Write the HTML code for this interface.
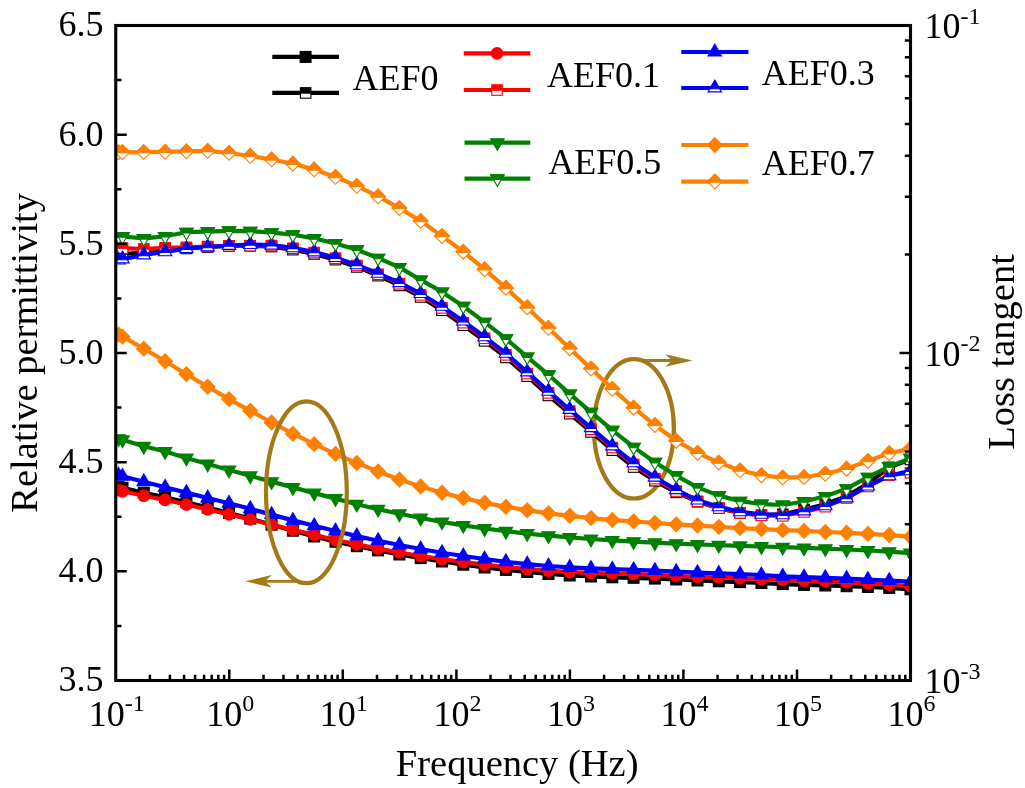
<!DOCTYPE html>
<html lang="en"><head><meta charset="utf-8"><title>Relative permittivity and loss tangent vs frequency</title>
<style>html,body{margin:0;padding:0;background:#fff}svg{display:block}</style></head>
<body>
<svg width="1025" height="788" viewBox="0 0 1025 788"><rect width="1025" height="788" fill="#fff"/><defs><clipPath id="cp"><rect x="115.75" y="25.5" width="794.75" height="655.0"/></clipPath></defs><g clip-path="url(#cp)">
<g><polyline points="118.5,487 122.5,487.8 143.8,492.7 165.1,497.3 186.4,502.3 207.7,507.6 229,513 250.3,518.6 271.6,524.7 292.9,530.7 314.2,536.5 335.5,541.8 356.8,546.2 378.1,550.4 399.4,554.5 420.7,558.1 442,561.5 463.3,564.7 484.6,567.5 505.9,569.9 527.2,572 548.5,574 569.7,575.5 591,576.5 612.3,577.3 633.6,577.8 654.9,578.6 676.2,579.5 697.5,580.5 718.8,581.3 740.1,582.1 761.4,583 782.7,584.1 804,584.9 825.3,585.5 846.6,586.2 867.9,587 889.2,587.9 910.5,589.3" fill="none" stroke="#000000" stroke-width="4.2" stroke-linejoin="round"/><rect x="113.1" y="481.6" width="10.8" height="10.8" fill="#000000" stroke="#000000" stroke-width="1.2"/><rect x="117.1" y="482.4" width="10.8" height="10.8" fill="#000000" stroke="#000000" stroke-width="1.2"/><rect x="138.4" y="487.3" width="10.8" height="10.8" fill="#000000" stroke="#000000" stroke-width="1.2"/><rect x="159.7" y="491.9" width="10.8" height="10.8" fill="#000000" stroke="#000000" stroke-width="1.2"/><rect x="181" y="496.9" width="10.8" height="10.8" fill="#000000" stroke="#000000" stroke-width="1.2"/><rect x="202.3" y="502.2" width="10.8" height="10.8" fill="#000000" stroke="#000000" stroke-width="1.2"/><rect x="223.6" y="507.6" width="10.8" height="10.8" fill="#000000" stroke="#000000" stroke-width="1.2"/><rect x="244.9" y="513.2" width="10.8" height="10.8" fill="#000000" stroke="#000000" stroke-width="1.2"/><rect x="266.2" y="519.3" width="10.8" height="10.8" fill="#000000" stroke="#000000" stroke-width="1.2"/><rect x="287.5" y="525.3" width="10.8" height="10.8" fill="#000000" stroke="#000000" stroke-width="1.2"/><rect x="308.8" y="531.1" width="10.8" height="10.8" fill="#000000" stroke="#000000" stroke-width="1.2"/><rect x="330.1" y="536.4" width="10.8" height="10.8" fill="#000000" stroke="#000000" stroke-width="1.2"/><rect x="351.4" y="540.8" width="10.8" height="10.8" fill="#000000" stroke="#000000" stroke-width="1.2"/><rect x="372.7" y="545" width="10.8" height="10.8" fill="#000000" stroke="#000000" stroke-width="1.2"/><rect x="394" y="549.1" width="10.8" height="10.8" fill="#000000" stroke="#000000" stroke-width="1.2"/><rect x="415.3" y="552.7" width="10.8" height="10.8" fill="#000000" stroke="#000000" stroke-width="1.2"/><rect x="436.6" y="556.1" width="10.8" height="10.8" fill="#000000" stroke="#000000" stroke-width="1.2"/><rect x="457.9" y="559.3" width="10.8" height="10.8" fill="#000000" stroke="#000000" stroke-width="1.2"/><rect x="479.2" y="562.1" width="10.8" height="10.8" fill="#000000" stroke="#000000" stroke-width="1.2"/><rect x="500.5" y="564.5" width="10.8" height="10.8" fill="#000000" stroke="#000000" stroke-width="1.2"/><rect x="521.8" y="566.6" width="10.8" height="10.8" fill="#000000" stroke="#000000" stroke-width="1.2"/><rect x="543.1" y="568.6" width="10.8" height="10.8" fill="#000000" stroke="#000000" stroke-width="1.2"/><rect x="564.3" y="570.1" width="10.8" height="10.8" fill="#000000" stroke="#000000" stroke-width="1.2"/><rect x="585.6" y="571.1" width="10.8" height="10.8" fill="#000000" stroke="#000000" stroke-width="1.2"/><rect x="606.9" y="571.9" width="10.8" height="10.8" fill="#000000" stroke="#000000" stroke-width="1.2"/><rect x="628.2" y="572.4" width="10.8" height="10.8" fill="#000000" stroke="#000000" stroke-width="1.2"/><rect x="649.5" y="573.2" width="10.8" height="10.8" fill="#000000" stroke="#000000" stroke-width="1.2"/><rect x="670.8" y="574.1" width="10.8" height="10.8" fill="#000000" stroke="#000000" stroke-width="1.2"/><rect x="692.1" y="575.1" width="10.8" height="10.8" fill="#000000" stroke="#000000" stroke-width="1.2"/><rect x="713.4" y="575.9" width="10.8" height="10.8" fill="#000000" stroke="#000000" stroke-width="1.2"/><rect x="734.7" y="576.7" width="10.8" height="10.8" fill="#000000" stroke="#000000" stroke-width="1.2"/><rect x="756" y="577.6" width="10.8" height="10.8" fill="#000000" stroke="#000000" stroke-width="1.2"/><rect x="777.3" y="578.7" width="10.8" height="10.8" fill="#000000" stroke="#000000" stroke-width="1.2"/><rect x="798.6" y="579.5" width="10.8" height="10.8" fill="#000000" stroke="#000000" stroke-width="1.2"/><rect x="819.9" y="580.1" width="10.8" height="10.8" fill="#000000" stroke="#000000" stroke-width="1.2"/><rect x="841.2" y="580.8" width="10.8" height="10.8" fill="#000000" stroke="#000000" stroke-width="1.2"/><rect x="862.5" y="581.6" width="10.8" height="10.8" fill="#000000" stroke="#000000" stroke-width="1.2"/><rect x="883.8" y="582.5" width="10.8" height="10.8" fill="#000000" stroke="#000000" stroke-width="1.2"/><rect x="905.1" y="583.9" width="10.8" height="10.8" fill="#000000" stroke="#000000" stroke-width="1.2"/></g>
<g><polyline points="118.5,490.2 122.5,491.3 143.8,495.7 165.1,499.9 186.4,504.5 207.7,509.4 229,514.4 250.3,519.4 271.6,524.7 292.9,529.7 314.2,534.8 335.5,540 356.8,544.4 378.1,548.6 399.4,552.5 420.7,556 442,559.2 463.3,562 484.6,564.6 505.9,567 527.2,569 548.5,570.7 569.7,572 591,572.9 612.3,573.5 633.6,574 654.9,574.8 676.2,575.8 697.5,576.8 718.8,577.5 740.1,578.2 761.4,579 782.7,579.9 804,580.7 825.3,581.4 846.6,582.3 867.9,583.3 889.2,584.6 910.5,586.2" fill="none" stroke="#ff0000" stroke-width="4.2" stroke-linejoin="round"/><circle cx="118.5" cy="490.2" r="6.3" fill="#ff0000"/><circle cx="122.5" cy="491.3" r="6.3" fill="#ff0000"/><circle cx="143.8" cy="495.7" r="6.3" fill="#ff0000"/><circle cx="165.1" cy="499.9" r="6.3" fill="#ff0000"/><circle cx="186.4" cy="504.5" r="6.3" fill="#ff0000"/><circle cx="207.7" cy="509.4" r="6.3" fill="#ff0000"/><circle cx="229" cy="514.4" r="6.3" fill="#ff0000"/><circle cx="250.3" cy="519.4" r="6.3" fill="#ff0000"/><circle cx="271.6" cy="524.7" r="6.3" fill="#ff0000"/><circle cx="292.9" cy="529.7" r="6.3" fill="#ff0000"/><circle cx="314.2" cy="534.8" r="6.3" fill="#ff0000"/><circle cx="335.5" cy="540" r="6.3" fill="#ff0000"/><circle cx="356.8" cy="544.4" r="6.3" fill="#ff0000"/><circle cx="378.1" cy="548.6" r="6.3" fill="#ff0000"/><circle cx="399.4" cy="552.5" r="6.3" fill="#ff0000"/><circle cx="420.7" cy="556" r="6.3" fill="#ff0000"/><circle cx="442" cy="559.2" r="6.3" fill="#ff0000"/><circle cx="463.3" cy="562" r="6.3" fill="#ff0000"/><circle cx="484.6" cy="564.6" r="6.3" fill="#ff0000"/><circle cx="505.9" cy="567" r="6.3" fill="#ff0000"/><circle cx="527.2" cy="569" r="6.3" fill="#ff0000"/><circle cx="548.5" cy="570.7" r="6.3" fill="#ff0000"/><circle cx="569.7" cy="572" r="6.3" fill="#ff0000"/><circle cx="591" cy="572.9" r="6.3" fill="#ff0000"/><circle cx="612.3" cy="573.5" r="6.3" fill="#ff0000"/><circle cx="633.6" cy="574" r="6.3" fill="#ff0000"/><circle cx="654.9" cy="574.8" r="6.3" fill="#ff0000"/><circle cx="676.2" cy="575.8" r="6.3" fill="#ff0000"/><circle cx="697.5" cy="576.8" r="6.3" fill="#ff0000"/><circle cx="718.8" cy="577.5" r="6.3" fill="#ff0000"/><circle cx="740.1" cy="578.2" r="6.3" fill="#ff0000"/><circle cx="761.4" cy="579" r="6.3" fill="#ff0000"/><circle cx="782.7" cy="579.9" r="6.3" fill="#ff0000"/><circle cx="804" cy="580.7" r="6.3" fill="#ff0000"/><circle cx="825.3" cy="581.4" r="6.3" fill="#ff0000"/><circle cx="846.6" cy="582.3" r="6.3" fill="#ff0000"/><circle cx="867.9" cy="583.3" r="6.3" fill="#ff0000"/><circle cx="889.2" cy="584.6" r="6.3" fill="#ff0000"/><circle cx="910.5" cy="586.2" r="6.3" fill="#ff0000"/></g>
<g><polyline points="118.5,475.2 122.5,476.3 143.8,481.7 165.1,487.3 186.4,492.6 207.7,498 229,503.3 250.3,508.8 271.6,514.6 292.9,520.4 314.2,525.8 335.5,531 356.8,536.1 378.1,540.7 399.4,545 420.7,549 442,552.7 463.3,556 484.6,559 505.9,561.8 527.2,564.1 548.5,566 569.7,567.4 591,568.4 612.3,569.2 633.6,569.8 654.9,570.7 676.2,571.7 697.5,572.7 718.8,573.4 740.1,574.1 761.4,575 782.7,576.3 804,577.1 825.3,577.8 846.6,578.5 867.9,579.5 889.2,580.6 910.5,581.6" fill="none" stroke="#0000ff" stroke-width="4.2" stroke-linejoin="round"/><polygon points="118.5,467.5 125.2,479.1 111.8,479.1" fill="#0000ff" stroke="#0000ff" stroke-width="1.2" stroke-linejoin="miter"/><polygon points="122.5,468.6 129.2,480.2 115.8,480.2" fill="#0000ff" stroke="#0000ff" stroke-width="1.2" stroke-linejoin="miter"/><polygon points="143.8,474 150.5,485.6 137.1,485.6" fill="#0000ff" stroke="#0000ff" stroke-width="1.2" stroke-linejoin="miter"/><polygon points="165.1,479.6 171.8,491.2 158.4,491.2" fill="#0000ff" stroke="#0000ff" stroke-width="1.2" stroke-linejoin="miter"/><polygon points="186.4,484.9 193.1,496.5 179.7,496.5" fill="#0000ff" stroke="#0000ff" stroke-width="1.2" stroke-linejoin="miter"/><polygon points="207.7,490.2 214.4,501.8 201,501.8" fill="#0000ff" stroke="#0000ff" stroke-width="1.2" stroke-linejoin="miter"/><polygon points="229,495.5 235.7,507.1 222.3,507.1" fill="#0000ff" stroke="#0000ff" stroke-width="1.2" stroke-linejoin="miter"/><polygon points="250.3,501 257,512.6 243.6,512.6" fill="#0000ff" stroke="#0000ff" stroke-width="1.2" stroke-linejoin="miter"/><polygon points="271.6,506.9 278.3,518.5 264.9,518.5" fill="#0000ff" stroke="#0000ff" stroke-width="1.2" stroke-linejoin="miter"/><polygon points="292.9,512.7 299.6,524.3 286.2,524.3" fill="#0000ff" stroke="#0000ff" stroke-width="1.2" stroke-linejoin="miter"/><polygon points="314.2,518.1 320.9,529.7 307.5,529.7" fill="#0000ff" stroke="#0000ff" stroke-width="1.2" stroke-linejoin="miter"/><polygon points="335.5,523.3 342.2,534.9 328.8,534.9" fill="#0000ff" stroke="#0000ff" stroke-width="1.2" stroke-linejoin="miter"/><polygon points="356.8,528.3 363.5,539.9 350.1,539.9" fill="#0000ff" stroke="#0000ff" stroke-width="1.2" stroke-linejoin="miter"/><polygon points="378.1,532.9 384.8,544.5 371.4,544.5" fill="#0000ff" stroke="#0000ff" stroke-width="1.2" stroke-linejoin="miter"/><polygon points="399.4,537.2 406.1,548.8 392.7,548.8" fill="#0000ff" stroke="#0000ff" stroke-width="1.2" stroke-linejoin="miter"/><polygon points="420.7,541.3 427.4,552.9 414,552.9" fill="#0000ff" stroke="#0000ff" stroke-width="1.2" stroke-linejoin="miter"/><polygon points="442,545 448.7,556.6 435.3,556.6" fill="#0000ff" stroke="#0000ff" stroke-width="1.2" stroke-linejoin="miter"/><polygon points="463.3,548.3 470,559.9 456.6,559.9" fill="#0000ff" stroke="#0000ff" stroke-width="1.2" stroke-linejoin="miter"/><polygon points="484.6,551.3 491.3,562.9 477.9,562.9" fill="#0000ff" stroke="#0000ff" stroke-width="1.2" stroke-linejoin="miter"/><polygon points="505.9,554 512.6,565.6 499.2,565.6" fill="#0000ff" stroke="#0000ff" stroke-width="1.2" stroke-linejoin="miter"/><polygon points="527.2,556.4 533.9,568 520.5,568" fill="#0000ff" stroke="#0000ff" stroke-width="1.2" stroke-linejoin="miter"/><polygon points="548.5,558.2 555.2,569.8 541.8,569.8" fill="#0000ff" stroke="#0000ff" stroke-width="1.2" stroke-linejoin="miter"/><polygon points="569.7,559.7 576.4,571.3 563,571.3" fill="#0000ff" stroke="#0000ff" stroke-width="1.2" stroke-linejoin="miter"/><polygon points="591,560.7 597.7,572.3 584.3,572.3" fill="#0000ff" stroke="#0000ff" stroke-width="1.2" stroke-linejoin="miter"/><polygon points="612.3,561.5 619,573.1 605.6,573.1" fill="#0000ff" stroke="#0000ff" stroke-width="1.2" stroke-linejoin="miter"/><polygon points="633.6,562.1 640.3,573.7 626.9,573.7" fill="#0000ff" stroke="#0000ff" stroke-width="1.2" stroke-linejoin="miter"/><polygon points="654.9,562.9 661.6,574.5 648.2,574.5" fill="#0000ff" stroke="#0000ff" stroke-width="1.2" stroke-linejoin="miter"/><polygon points="676.2,564 682.9,575.6 669.5,575.6" fill="#0000ff" stroke="#0000ff" stroke-width="1.2" stroke-linejoin="miter"/><polygon points="697.5,565 704.2,576.6 690.8,576.6" fill="#0000ff" stroke="#0000ff" stroke-width="1.2" stroke-linejoin="miter"/><polygon points="718.8,565.7 725.5,577.3 712.1,577.3" fill="#0000ff" stroke="#0000ff" stroke-width="1.2" stroke-linejoin="miter"/><polygon points="740.1,566.4 746.8,578 733.4,578" fill="#0000ff" stroke="#0000ff" stroke-width="1.2" stroke-linejoin="miter"/><polygon points="761.4,567.3 768.1,578.9 754.7,578.9" fill="#0000ff" stroke="#0000ff" stroke-width="1.2" stroke-linejoin="miter"/><polygon points="782.7,568.6 789.4,580.2 776,580.2" fill="#0000ff" stroke="#0000ff" stroke-width="1.2" stroke-linejoin="miter"/><polygon points="804,569.4 810.7,581 797.3,581" fill="#0000ff" stroke="#0000ff" stroke-width="1.2" stroke-linejoin="miter"/><polygon points="825.3,570 832,581.6 818.6,581.6" fill="#0000ff" stroke="#0000ff" stroke-width="1.2" stroke-linejoin="miter"/><polygon points="846.6,570.8 853.3,582.4 839.9,582.4" fill="#0000ff" stroke="#0000ff" stroke-width="1.2" stroke-linejoin="miter"/><polygon points="867.9,571.8 874.6,583.4 861.2,583.4" fill="#0000ff" stroke="#0000ff" stroke-width="1.2" stroke-linejoin="miter"/><polygon points="889.2,572.9 895.9,584.5 882.5,584.5" fill="#0000ff" stroke="#0000ff" stroke-width="1.2" stroke-linejoin="miter"/><polygon points="910.5,573.9 917.2,585.5 903.8,585.5" fill="#0000ff" stroke="#0000ff" stroke-width="1.2" stroke-linejoin="miter"/></g>
<g><polyline points="118.5,438.7 122.5,439.8 143.8,446.3 165.1,451.5 186.4,458 207.7,464 229,470 250.3,475.8 271.6,481.6 292.9,487.4 314.2,493.1 335.5,498.6 356.8,504.2 378.1,509.2 399.4,513.8 420.7,518 442,521.9 463.3,525.4 484.6,528.5 505.9,531.2 527.2,533.6 548.5,535.6 569.7,537.4 591,539 612.3,540.4 633.6,541.6 654.9,542.7 676.2,543.7 697.5,544.5 718.8,545.1 740.1,545.8 761.4,546.5 782.7,547.2 804,547.9 825.3,548.7 846.6,549.5 867.9,550.5 889.2,551.7 910.5,553.1" fill="none" stroke="#008000" stroke-width="4.2" stroke-linejoin="round"/><polygon points="111.8,434.8 125.2,434.8 118.5,446.4" fill="#008000" stroke="#008000" stroke-width="1.2"/><polygon points="115.8,435.9 129.2,435.9 122.5,447.5" fill="#008000" stroke="#008000" stroke-width="1.2"/><polygon points="137.1,442.4 150.5,442.4 143.8,454" fill="#008000" stroke="#008000" stroke-width="1.2"/><polygon points="158.4,447.6 171.8,447.6 165.1,459.2" fill="#008000" stroke="#008000" stroke-width="1.2"/><polygon points="179.7,454.1 193.1,454.1 186.4,465.7" fill="#008000" stroke="#008000" stroke-width="1.2"/><polygon points="201,460.1 214.4,460.1 207.7,471.7" fill="#008000" stroke="#008000" stroke-width="1.2"/><polygon points="222.3,466.1 235.7,466.1 229,477.7" fill="#008000" stroke="#008000" stroke-width="1.2"/><polygon points="243.6,471.9 257,471.9 250.3,483.5" fill="#008000" stroke="#008000" stroke-width="1.2"/><polygon points="264.9,477.8 278.3,477.8 271.6,489.4" fill="#008000" stroke="#008000" stroke-width="1.2"/><polygon points="286.2,483.6 299.6,483.6 292.9,495.2" fill="#008000" stroke="#008000" stroke-width="1.2"/><polygon points="307.5,489.2 320.9,489.2 314.2,500.8" fill="#008000" stroke="#008000" stroke-width="1.2"/><polygon points="328.8,494.7 342.2,494.7 335.5,506.3" fill="#008000" stroke="#008000" stroke-width="1.2"/><polygon points="350.1,500.3 363.5,500.3 356.8,511.9" fill="#008000" stroke="#008000" stroke-width="1.2"/><polygon points="371.4,505.3 384.8,505.3 378.1,516.9" fill="#008000" stroke="#008000" stroke-width="1.2"/><polygon points="392.7,509.9 406.1,509.9 399.4,521.5" fill="#008000" stroke="#008000" stroke-width="1.2"/><polygon points="414,514.2 427.4,514.2 420.7,525.8" fill="#008000" stroke="#008000" stroke-width="1.2"/><polygon points="435.3,518 448.7,518 442,529.6" fill="#008000" stroke="#008000" stroke-width="1.2"/><polygon points="456.6,521.5 470,521.5 463.3,533.1" fill="#008000" stroke="#008000" stroke-width="1.2"/><polygon points="477.9,524.6 491.3,524.6 484.6,536.2" fill="#008000" stroke="#008000" stroke-width="1.2"/><polygon points="499.2,527.4 512.6,527.4 505.9,539" fill="#008000" stroke="#008000" stroke-width="1.2"/><polygon points="520.5,529.7 533.9,529.7 527.2,541.3" fill="#008000" stroke="#008000" stroke-width="1.2"/><polygon points="541.8,531.8 555.2,531.8 548.5,543.4" fill="#008000" stroke="#008000" stroke-width="1.2"/><polygon points="563,533.5 576.4,533.5 569.7,545.1" fill="#008000" stroke="#008000" stroke-width="1.2"/><polygon points="584.3,535.1 597.7,535.1 591,546.7" fill="#008000" stroke="#008000" stroke-width="1.2"/><polygon points="605.6,536.5 619,536.5 612.3,548.1" fill="#008000" stroke="#008000" stroke-width="1.2"/><polygon points="626.9,537.8 640.3,537.8 633.6,549.4" fill="#008000" stroke="#008000" stroke-width="1.2"/><polygon points="648.2,538.9 661.6,538.9 654.9,550.5" fill="#008000" stroke="#008000" stroke-width="1.2"/><polygon points="669.5,539.8 682.9,539.8 676.2,551.4" fill="#008000" stroke="#008000" stroke-width="1.2"/><polygon points="690.8,540.6 704.2,540.6 697.5,552.2" fill="#008000" stroke="#008000" stroke-width="1.2"/><polygon points="712.1,541.3 725.5,541.3 718.8,552.9" fill="#008000" stroke="#008000" stroke-width="1.2"/><polygon points="733.4,541.9 746.8,541.9 740.1,553.5" fill="#008000" stroke="#008000" stroke-width="1.2"/><polygon points="754.7,542.6 768.1,542.6 761.4,554.2" fill="#008000" stroke="#008000" stroke-width="1.2"/><polygon points="776,543.3 789.4,543.3 782.7,554.9" fill="#008000" stroke="#008000" stroke-width="1.2"/><polygon points="797.3,544 810.7,544 804,555.6" fill="#008000" stroke="#008000" stroke-width="1.2"/><polygon points="818.6,544.8 832,544.8 825.3,556.4" fill="#008000" stroke="#008000" stroke-width="1.2"/><polygon points="839.9,545.6 853.3,545.6 846.6,557.2" fill="#008000" stroke="#008000" stroke-width="1.2"/><polygon points="861.2,546.6 874.6,546.6 867.9,558.2" fill="#008000" stroke="#008000" stroke-width="1.2"/><polygon points="882.5,547.8 895.9,547.8 889.2,559.4" fill="#008000" stroke="#008000" stroke-width="1.2"/><polygon points="903.8,549.2 917.2,549.2 910.5,560.8" fill="#008000" stroke="#008000" stroke-width="1.2"/></g>
<g><polyline points="118.5,334.5 122.5,336.7 143.8,348.7 165.1,361.2 186.4,374.2 207.7,386.8 229,399.1 250.3,410.8 271.6,422.5 292.9,433.7 314.2,444.2 335.5,453.9 356.8,462.9 378.1,471.5 399.4,479.5 420.7,486.4 442,492.7 463.3,498.1 484.6,502.9 505.9,506.9 527.2,510.2 548.5,513.3 569.7,515.8 591,518.1 612.3,520.1 633.6,521.4 654.9,523 676.2,524.4 697.5,525.6 718.8,526.9 740.1,528.1 761.4,529.1 782.7,530.2 804,530.9 825.3,532 846.6,532.8 867.9,533.9 889.2,535.1 910.5,536.7" fill="none" stroke="#ff8000" stroke-width="4.2" stroke-linejoin="round"/><polygon points="118.5,327.1 125.8,334.5 118.5,341.8 111.2,334.5" fill="#ff8000" stroke="#ff8000" stroke-width="1.2"/><polygon points="122.5,329.3 129.9,336.7 122.5,344 115.2,336.7" fill="#ff8000" stroke="#ff8000" stroke-width="1.2"/><polygon points="143.8,341.3 151.2,348.7 143.8,356 136.5,348.7" fill="#ff8000" stroke="#ff8000" stroke-width="1.2"/><polygon points="165.1,353.9 172.5,361.2 165.1,368.6 157.8,361.2" fill="#ff8000" stroke="#ff8000" stroke-width="1.2"/><polygon points="186.4,366.8 193.8,374.2 186.4,381.5 179.1,374.2" fill="#ff8000" stroke="#ff8000" stroke-width="1.2"/><polygon points="207.7,379.4 215,386.8 207.7,394.1 200.3,386.8" fill="#ff8000" stroke="#ff8000" stroke-width="1.2"/><polygon points="229,391.8 236.3,399.1 229,406.5 221.6,399.1" fill="#ff8000" stroke="#ff8000" stroke-width="1.2"/><polygon points="250.3,403.5 257.6,410.8 250.3,418.2 242.9,410.8" fill="#ff8000" stroke="#ff8000" stroke-width="1.2"/><polygon points="271.6,415.2 278.9,422.5 271.6,429.9 264.2,422.5" fill="#ff8000" stroke="#ff8000" stroke-width="1.2"/><polygon points="292.9,426.4 300.2,433.7 292.9,441.1 285.5,433.7" fill="#ff8000" stroke="#ff8000" stroke-width="1.2"/><polygon points="314.2,436.8 321.5,444.2 314.2,451.5 306.8,444.2" fill="#ff8000" stroke="#ff8000" stroke-width="1.2"/><polygon points="335.5,446.5 342.8,453.9 335.5,461.2 328.1,453.9" fill="#ff8000" stroke="#ff8000" stroke-width="1.2"/><polygon points="356.8,455.6 364.1,462.9 356.8,470.3 349.4,462.9" fill="#ff8000" stroke="#ff8000" stroke-width="1.2"/><polygon points="378.1,464.1 385.4,471.5 378.1,478.8 370.7,471.5" fill="#ff8000" stroke="#ff8000" stroke-width="1.2"/><polygon points="399.4,472.1 406.7,479.5 399.4,486.8 392,479.5" fill="#ff8000" stroke="#ff8000" stroke-width="1.2"/><polygon points="420.7,479.1 428,486.4 420.7,493.8 413.3,486.4" fill="#ff8000" stroke="#ff8000" stroke-width="1.2"/><polygon points="442,485.4 449.3,492.7 442,500.1 434.6,492.7" fill="#ff8000" stroke="#ff8000" stroke-width="1.2"/><polygon points="463.3,490.7 470.6,498.1 463.3,505.4 455.9,498.1" fill="#ff8000" stroke="#ff8000" stroke-width="1.2"/><polygon points="484.6,495.5 491.9,502.9 484.6,510.2 477.2,502.9" fill="#ff8000" stroke="#ff8000" stroke-width="1.2"/><polygon points="505.9,499.5 513.2,506.9 505.9,514.2 498.5,506.9" fill="#ff8000" stroke="#ff8000" stroke-width="1.2"/><polygon points="527.2,502.9 534.5,510.2 527.2,517.6 519.8,510.2" fill="#ff8000" stroke="#ff8000" stroke-width="1.2"/><polygon points="548.5,506 555.8,513.3 548.5,520.7 541.1,513.3" fill="#ff8000" stroke="#ff8000" stroke-width="1.2"/><polygon points="569.7,508.5 577.1,515.8 569.7,523.2 562.4,515.8" fill="#ff8000" stroke="#ff8000" stroke-width="1.2"/><polygon points="591,510.8 598.4,518.1 591,525.5 583.7,518.1" fill="#ff8000" stroke="#ff8000" stroke-width="1.2"/><polygon points="612.3,512.7 619.7,520.1 612.3,527.4 605,520.1" fill="#ff8000" stroke="#ff8000" stroke-width="1.2"/><polygon points="633.6,514 641,521.4 633.6,528.7 626.3,521.4" fill="#ff8000" stroke="#ff8000" stroke-width="1.2"/><polygon points="654.9,515.6 662.3,523 654.9,530.3 647.6,523" fill="#ff8000" stroke="#ff8000" stroke-width="1.2"/><polygon points="676.2,517 683.6,524.4 676.2,531.7 668.9,524.4" fill="#ff8000" stroke="#ff8000" stroke-width="1.2"/><polygon points="697.5,518.2 704.9,525.6 697.5,532.9 690.2,525.6" fill="#ff8000" stroke="#ff8000" stroke-width="1.2"/><polygon points="718.8,519.5 726.2,526.9 718.8,534.2 711.5,526.9" fill="#ff8000" stroke="#ff8000" stroke-width="1.2"/><polygon points="740.1,520.8 747.5,528.1 740.1,535.5 732.8,528.1" fill="#ff8000" stroke="#ff8000" stroke-width="1.2"/><polygon points="761.4,521.7 768.8,529.1 761.4,536.4 754.1,529.1" fill="#ff8000" stroke="#ff8000" stroke-width="1.2"/><polygon points="782.7,522.8 790.1,530.2 782.7,537.5 775.4,530.2" fill="#ff8000" stroke="#ff8000" stroke-width="1.2"/><polygon points="804,523.5 811.4,530.9 804,538.2 796.7,530.9" fill="#ff8000" stroke="#ff8000" stroke-width="1.2"/><polygon points="825.3,524.6 832.7,532 825.3,539.3 818,532" fill="#ff8000" stroke="#ff8000" stroke-width="1.2"/><polygon points="846.6,525.4 854,532.8 846.6,540.1 839.3,532.8" fill="#ff8000" stroke="#ff8000" stroke-width="1.2"/><polygon points="867.9,526.5 875.3,533.9 867.9,541.2 860.6,533.9" fill="#ff8000" stroke="#ff8000" stroke-width="1.2"/><polygon points="889.2,527.7 896.6,535.1 889.2,542.4 881.9,535.1" fill="#ff8000" stroke="#ff8000" stroke-width="1.2"/><polygon points="910.5,529.3 917.9,536.7 910.5,544 903.1,536.7" fill="#ff8000" stroke="#ff8000" stroke-width="1.2"/></g>
</g>
<g fill="none" stroke="#a37a18"><ellipse cx="306.4" cy="492.3" rx="40.4" ry="90.9" stroke-width="4.2"/><ellipse cx="633.9" cy="428.8" rx="40.0" ry="69.7" stroke-width="4.2"/><line x1="300" y1="581.3" x2="263" y2="581.3" stroke-width="2.8"/><line x1="640" y1="360.5" x2="674" y2="360.5" stroke-width="2.8"/></g><polygon points="692.5,360.5 665.3,354.2 672,360.5 665.3,366.8" fill="#a37a18"/><polygon points="245.3,581.3 271.6,575 265.2,581.3 271.6,587.6" fill="#a37a18"/>
<g clip-path="url(#cp)">
<g><polyline points="118.5,254.6 122.5,254 143.8,252.5 165.1,250 186.4,248.4 207.7,247 229,246 250.3,245.8 271.6,246.6 292.9,249.6 314.2,254 335.5,259.7 356.8,266.9 378.1,275.6 399.4,285.4 420.7,296.9 442,310.3 463.3,325.2 484.6,340.8 505.9,357.4 527.2,376.1 548.5,395.5 569.7,413.7 591,431.9 612.3,450.2 633.6,467 654.9,480.8 676.2,492.3 697.5,501.7 718.8,508.2 740.1,512.8 761.4,515.1 782.7,514.3 804,509.5 825.3,504.3 846.6,496.2 867.9,483.5 889.2,467.3 910.5,459.5" fill="none" stroke="#000000" stroke-width="4.2" stroke-linejoin="round"/><rect x="113.2" y="249.3" width="10.5" height="10.5" fill="#fff" stroke="#000000" stroke-width="1.1"/><rect x="113.2" y="249.3" width="10.5" height="6" fill="#000000"/><rect x="117.3" y="248.8" width="10.5" height="10.5" fill="#fff" stroke="#000000" stroke-width="1.1"/><rect x="117.3" y="248.8" width="10.5" height="6" fill="#000000"/><rect x="138.6" y="247.3" width="10.5" height="10.5" fill="#fff" stroke="#000000" stroke-width="1.1"/><rect x="138.6" y="247.3" width="10.5" height="6" fill="#000000"/><rect x="159.9" y="244.8" width="10.5" height="10.5" fill="#fff" stroke="#000000" stroke-width="1.1"/><rect x="159.9" y="244.8" width="10.5" height="6" fill="#000000"/><rect x="181.2" y="243.2" width="10.5" height="10.5" fill="#fff" stroke="#000000" stroke-width="1.1"/><rect x="181.2" y="243.2" width="10.5" height="6" fill="#000000"/><rect x="202.4" y="241.8" width="10.5" height="10.5" fill="#fff" stroke="#000000" stroke-width="1.1"/><rect x="202.4" y="241.8" width="10.5" height="6" fill="#000000"/><rect x="223.7" y="240.8" width="10.5" height="10.5" fill="#fff" stroke="#000000" stroke-width="1.1"/><rect x="223.7" y="240.8" width="10.5" height="6" fill="#000000"/><rect x="245" y="240.6" width="10.5" height="10.5" fill="#fff" stroke="#000000" stroke-width="1.1"/><rect x="245" y="240.6" width="10.5" height="6" fill="#000000"/><rect x="266.3" y="241.3" width="10.5" height="10.5" fill="#fff" stroke="#000000" stroke-width="1.1"/><rect x="266.3" y="241.3" width="10.5" height="6" fill="#000000"/><rect x="287.6" y="244.4" width="10.5" height="10.5" fill="#fff" stroke="#000000" stroke-width="1.1"/><rect x="287.6" y="244.4" width="10.5" height="6" fill="#000000"/><rect x="308.9" y="248.7" width="10.5" height="10.5" fill="#fff" stroke="#000000" stroke-width="1.1"/><rect x="308.9" y="248.7" width="10.5" height="6" fill="#000000"/><rect x="330.2" y="254.4" width="10.5" height="10.5" fill="#fff" stroke="#000000" stroke-width="1.1"/><rect x="330.2" y="254.4" width="10.5" height="6" fill="#000000"/><rect x="351.5" y="261.7" width="10.5" height="10.5" fill="#fff" stroke="#000000" stroke-width="1.1"/><rect x="351.5" y="261.7" width="10.5" height="6" fill="#000000"/><rect x="372.8" y="270.4" width="10.5" height="10.5" fill="#fff" stroke="#000000" stroke-width="1.1"/><rect x="372.8" y="270.4" width="10.5" height="6" fill="#000000"/><rect x="394.1" y="280.2" width="10.5" height="10.5" fill="#fff" stroke="#000000" stroke-width="1.1"/><rect x="394.1" y="280.2" width="10.5" height="6" fill="#000000"/><rect x="415.4" y="291.7" width="10.5" height="10.5" fill="#fff" stroke="#000000" stroke-width="1.1"/><rect x="415.4" y="291.7" width="10.5" height="6" fill="#000000"/><rect x="436.7" y="305" width="10.5" height="10.5" fill="#fff" stroke="#000000" stroke-width="1.1"/><rect x="436.7" y="305" width="10.5" height="6" fill="#000000"/><rect x="458" y="319.9" width="10.5" height="10.5" fill="#fff" stroke="#000000" stroke-width="1.1"/><rect x="458" y="319.9" width="10.5" height="6" fill="#000000"/><rect x="479.3" y="335.6" width="10.5" height="10.5" fill="#fff" stroke="#000000" stroke-width="1.1"/><rect x="479.3" y="335.6" width="10.5" height="6" fill="#000000"/><rect x="500.6" y="352.2" width="10.5" height="10.5" fill="#fff" stroke="#000000" stroke-width="1.1"/><rect x="500.6" y="352.2" width="10.5" height="6" fill="#000000"/><rect x="521.9" y="370.9" width="10.5" height="10.5" fill="#fff" stroke="#000000" stroke-width="1.1"/><rect x="521.9" y="370.9" width="10.5" height="6" fill="#000000"/><rect x="543.2" y="390.2" width="10.5" height="10.5" fill="#fff" stroke="#000000" stroke-width="1.1"/><rect x="543.2" y="390.2" width="10.5" height="6" fill="#000000"/><rect x="564.5" y="408.4" width="10.5" height="10.5" fill="#fff" stroke="#000000" stroke-width="1.1"/><rect x="564.5" y="408.4" width="10.5" height="6" fill="#000000"/><rect x="585.8" y="426.7" width="10.5" height="10.5" fill="#fff" stroke="#000000" stroke-width="1.1"/><rect x="585.8" y="426.7" width="10.5" height="6" fill="#000000"/><rect x="607.1" y="444.9" width="10.5" height="10.5" fill="#fff" stroke="#000000" stroke-width="1.1"/><rect x="607.1" y="444.9" width="10.5" height="6" fill="#000000"/><rect x="628.4" y="461.8" width="10.5" height="10.5" fill="#fff" stroke="#000000" stroke-width="1.1"/><rect x="628.4" y="461.8" width="10.5" height="6" fill="#000000"/><rect x="649.7" y="475.5" width="10.5" height="10.5" fill="#fff" stroke="#000000" stroke-width="1.1"/><rect x="649.7" y="475.5" width="10.5" height="6" fill="#000000"/><rect x="671" y="487.1" width="10.5" height="10.5" fill="#fff" stroke="#000000" stroke-width="1.1"/><rect x="671" y="487.1" width="10.5" height="6" fill="#000000"/><rect x="692.3" y="496.5" width="10.5" height="10.5" fill="#fff" stroke="#000000" stroke-width="1.1"/><rect x="692.3" y="496.5" width="10.5" height="6" fill="#000000"/><rect x="713.6" y="502.9" width="10.5" height="10.5" fill="#fff" stroke="#000000" stroke-width="1.1"/><rect x="713.6" y="502.9" width="10.5" height="6" fill="#000000"/><rect x="734.9" y="507.6" width="10.5" height="10.5" fill="#fff" stroke="#000000" stroke-width="1.1"/><rect x="734.9" y="507.6" width="10.5" height="6" fill="#000000"/><rect x="756.2" y="509.9" width="10.5" height="10.5" fill="#fff" stroke="#000000" stroke-width="1.1"/><rect x="756.2" y="509.9" width="10.5" height="6" fill="#000000"/><rect x="777.5" y="509" width="10.5" height="10.5" fill="#fff" stroke="#000000" stroke-width="1.1"/><rect x="777.5" y="509" width="10.5" height="6" fill="#000000"/><rect x="798.8" y="504.2" width="10.5" height="10.5" fill="#fff" stroke="#000000" stroke-width="1.1"/><rect x="798.8" y="504.2" width="10.5" height="6" fill="#000000"/><rect x="820.1" y="499.1" width="10.5" height="10.5" fill="#fff" stroke="#000000" stroke-width="1.1"/><rect x="820.1" y="499.1" width="10.5" height="6" fill="#000000"/><rect x="841.4" y="490.9" width="10.5" height="10.5" fill="#fff" stroke="#000000" stroke-width="1.1"/><rect x="841.4" y="490.9" width="10.5" height="6" fill="#000000"/><rect x="862.7" y="478.2" width="10.5" height="10.5" fill="#fff" stroke="#000000" stroke-width="1.1"/><rect x="862.7" y="478.2" width="10.5" height="6" fill="#000000"/><rect x="884" y="462.1" width="10.5" height="10.5" fill="#fff" stroke="#000000" stroke-width="1.1"/><rect x="884" y="462.1" width="10.5" height="6" fill="#000000"/><rect x="905.2" y="454.2" width="10.5" height="10.5" fill="#fff" stroke="#000000" stroke-width="1.1"/><rect x="905.2" y="454.2" width="10.5" height="6" fill="#000000"/></g>
<g><polyline points="118.5,248.1 122.5,248.2 143.8,249 165.1,247.8 186.4,247.3 207.7,246.5 229,245.8 250.3,245.6 271.6,245.5 292.9,248.2 314.2,252.5 335.5,258.1 356.8,265.4 378.1,274.2 399.4,283.7 420.7,294.9 442,307.9 463.3,322.7 484.6,338.3 505.9,354.9 527.2,373.5 548.5,392.9 569.7,411.1 591,429.3 612.3,447.5 633.6,464.4 654.9,478.7 676.2,491.1 697.5,501.3 718.8,508.1 740.1,512.9 761.4,515.5 782.7,515.8 804,512 825.3,506.6 846.6,498 867.9,486.5 889.2,475 910.5,472.9" fill="none" stroke="#ff0000" stroke-width="4.2" stroke-linejoin="round"/><rect x="113.2" y="242.8" width="10.5" height="10.5" fill="#fff" stroke="#ff0000" stroke-width="1.1"/><rect x="113.2" y="242.8" width="10.5" height="6" fill="#ff0000"/><rect x="117.3" y="242.9" width="10.5" height="10.5" fill="#fff" stroke="#ff0000" stroke-width="1.1"/><rect x="117.3" y="242.9" width="10.5" height="6" fill="#ff0000"/><rect x="138.6" y="243.7" width="10.5" height="10.5" fill="#fff" stroke="#ff0000" stroke-width="1.1"/><rect x="138.6" y="243.7" width="10.5" height="6" fill="#ff0000"/><rect x="159.9" y="242.6" width="10.5" height="10.5" fill="#fff" stroke="#ff0000" stroke-width="1.1"/><rect x="159.9" y="242.6" width="10.5" height="6" fill="#ff0000"/><rect x="181.2" y="242.1" width="10.5" height="10.5" fill="#fff" stroke="#ff0000" stroke-width="1.1"/><rect x="181.2" y="242.1" width="10.5" height="6" fill="#ff0000"/><rect x="202.4" y="241.3" width="10.5" height="10.5" fill="#fff" stroke="#ff0000" stroke-width="1.1"/><rect x="202.4" y="241.3" width="10.5" height="6" fill="#ff0000"/><rect x="223.7" y="240.6" width="10.5" height="10.5" fill="#fff" stroke="#ff0000" stroke-width="1.1"/><rect x="223.7" y="240.6" width="10.5" height="6" fill="#ff0000"/><rect x="245" y="240.4" width="10.5" height="10.5" fill="#fff" stroke="#ff0000" stroke-width="1.1"/><rect x="245" y="240.4" width="10.5" height="6" fill="#ff0000"/><rect x="266.3" y="240.3" width="10.5" height="10.5" fill="#fff" stroke="#ff0000" stroke-width="1.1"/><rect x="266.3" y="240.3" width="10.5" height="6" fill="#ff0000"/><rect x="287.6" y="243" width="10.5" height="10.5" fill="#fff" stroke="#ff0000" stroke-width="1.1"/><rect x="287.6" y="243" width="10.5" height="6" fill="#ff0000"/><rect x="308.9" y="247.3" width="10.5" height="10.5" fill="#fff" stroke="#ff0000" stroke-width="1.1"/><rect x="308.9" y="247.3" width="10.5" height="6" fill="#ff0000"/><rect x="330.2" y="252.9" width="10.5" height="10.5" fill="#fff" stroke="#ff0000" stroke-width="1.1"/><rect x="330.2" y="252.9" width="10.5" height="6" fill="#ff0000"/><rect x="351.5" y="260.2" width="10.5" height="10.5" fill="#fff" stroke="#ff0000" stroke-width="1.1"/><rect x="351.5" y="260.2" width="10.5" height="6" fill="#ff0000"/><rect x="372.8" y="269" width="10.5" height="10.5" fill="#fff" stroke="#ff0000" stroke-width="1.1"/><rect x="372.8" y="269" width="10.5" height="6" fill="#ff0000"/><rect x="394.1" y="278.5" width="10.5" height="10.5" fill="#fff" stroke="#ff0000" stroke-width="1.1"/><rect x="394.1" y="278.5" width="10.5" height="6" fill="#ff0000"/><rect x="415.4" y="289.6" width="10.5" height="10.5" fill="#fff" stroke="#ff0000" stroke-width="1.1"/><rect x="415.4" y="289.6" width="10.5" height="6" fill="#ff0000"/><rect x="436.7" y="302.6" width="10.5" height="10.5" fill="#fff" stroke="#ff0000" stroke-width="1.1"/><rect x="436.7" y="302.6" width="10.5" height="6" fill="#ff0000"/><rect x="458" y="317.4" width="10.5" height="10.5" fill="#fff" stroke="#ff0000" stroke-width="1.1"/><rect x="458" y="317.4" width="10.5" height="6" fill="#ff0000"/><rect x="479.3" y="333" width="10.5" height="10.5" fill="#fff" stroke="#ff0000" stroke-width="1.1"/><rect x="479.3" y="333" width="10.5" height="6" fill="#ff0000"/><rect x="500.6" y="349.6" width="10.5" height="10.5" fill="#fff" stroke="#ff0000" stroke-width="1.1"/><rect x="500.6" y="349.6" width="10.5" height="6" fill="#ff0000"/><rect x="521.9" y="368.3" width="10.5" height="10.5" fill="#fff" stroke="#ff0000" stroke-width="1.1"/><rect x="521.9" y="368.3" width="10.5" height="6" fill="#ff0000"/><rect x="543.2" y="387.6" width="10.5" height="10.5" fill="#fff" stroke="#ff0000" stroke-width="1.1"/><rect x="543.2" y="387.6" width="10.5" height="6" fill="#ff0000"/><rect x="564.5" y="405.8" width="10.5" height="10.5" fill="#fff" stroke="#ff0000" stroke-width="1.1"/><rect x="564.5" y="405.8" width="10.5" height="6" fill="#ff0000"/><rect x="585.8" y="424" width="10.5" height="10.5" fill="#fff" stroke="#ff0000" stroke-width="1.1"/><rect x="585.8" y="424" width="10.5" height="6" fill="#ff0000"/><rect x="607.1" y="442.3" width="10.5" height="10.5" fill="#fff" stroke="#ff0000" stroke-width="1.1"/><rect x="607.1" y="442.3" width="10.5" height="6" fill="#ff0000"/><rect x="628.4" y="459.1" width="10.5" height="10.5" fill="#fff" stroke="#ff0000" stroke-width="1.1"/><rect x="628.4" y="459.1" width="10.5" height="6" fill="#ff0000"/><rect x="649.7" y="473.4" width="10.5" height="10.5" fill="#fff" stroke="#ff0000" stroke-width="1.1"/><rect x="649.7" y="473.4" width="10.5" height="6" fill="#ff0000"/><rect x="671" y="485.8" width="10.5" height="10.5" fill="#fff" stroke="#ff0000" stroke-width="1.1"/><rect x="671" y="485.8" width="10.5" height="6" fill="#ff0000"/><rect x="692.3" y="496.1" width="10.5" height="10.5" fill="#fff" stroke="#ff0000" stroke-width="1.1"/><rect x="692.3" y="496.1" width="10.5" height="6" fill="#ff0000"/><rect x="713.6" y="502.8" width="10.5" height="10.5" fill="#fff" stroke="#ff0000" stroke-width="1.1"/><rect x="713.6" y="502.8" width="10.5" height="6" fill="#ff0000"/><rect x="734.9" y="507.7" width="10.5" height="10.5" fill="#fff" stroke="#ff0000" stroke-width="1.1"/><rect x="734.9" y="507.7" width="10.5" height="6" fill="#ff0000"/><rect x="756.2" y="510.2" width="10.5" height="10.5" fill="#fff" stroke="#ff0000" stroke-width="1.1"/><rect x="756.2" y="510.2" width="10.5" height="6" fill="#ff0000"/><rect x="777.5" y="510.6" width="10.5" height="10.5" fill="#fff" stroke="#ff0000" stroke-width="1.1"/><rect x="777.5" y="510.6" width="10.5" height="6" fill="#ff0000"/><rect x="798.8" y="506.7" width="10.5" height="10.5" fill="#fff" stroke="#ff0000" stroke-width="1.1"/><rect x="798.8" y="506.7" width="10.5" height="6" fill="#ff0000"/><rect x="820.1" y="501.4" width="10.5" height="10.5" fill="#fff" stroke="#ff0000" stroke-width="1.1"/><rect x="820.1" y="501.4" width="10.5" height="6" fill="#ff0000"/><rect x="841.4" y="492.8" width="10.5" height="10.5" fill="#fff" stroke="#ff0000" stroke-width="1.1"/><rect x="841.4" y="492.8" width="10.5" height="6" fill="#ff0000"/><rect x="862.7" y="481.2" width="10.5" height="10.5" fill="#fff" stroke="#ff0000" stroke-width="1.1"/><rect x="862.7" y="481.2" width="10.5" height="6" fill="#ff0000"/><rect x="884" y="469.8" width="10.5" height="10.5" fill="#fff" stroke="#ff0000" stroke-width="1.1"/><rect x="884" y="469.8" width="10.5" height="6" fill="#ff0000"/><rect x="905.2" y="467.6" width="10.5" height="10.5" fill="#fff" stroke="#ff0000" stroke-width="1.1"/><rect x="905.2" y="467.6" width="10.5" height="6" fill="#ff0000"/></g>
<g><polyline points="118.5,260.2 122.5,259.1 143.8,255 165.1,251.8 186.4,248.7 207.7,247 229,245.5 250.3,244.6 271.6,245.2 292.9,247.9 314.2,252.1 335.5,257.7 356.8,264.9 378.1,273.4 399.4,282.7 420.7,293.7 442,306.5 463.3,321.2 484.6,336.8 505.9,353.4 527.2,372 548.5,391.4 569.7,409.6 591,427.8 612.3,446 633.6,462.9 654.9,477.2 676.2,489.8 697.5,500.1 718.8,506.9 740.1,511.8 761.4,514.4 782.7,514.8 804,511 825.3,505.8 846.6,498 867.9,486.2 889.2,475.9 910.5,470.8" fill="none" stroke="#0000ff" stroke-width="4.2" stroke-linejoin="round"/><polygon points="118.5,252.4 125.2,264 111.8,264" fill="#fff" stroke="#0000ff" stroke-width="1.1"/><polygon points="118.5,252.4 123.4,260.9 113.6,260.9" fill="#0000ff" stroke="#0000ff" stroke-width="1.1"/><polygon points="122.5,251.3 129.2,262.9 115.8,262.9" fill="#fff" stroke="#0000ff" stroke-width="1.1"/><polygon points="122.5,251.3 127.4,259.8 117.6,259.8" fill="#0000ff" stroke="#0000ff" stroke-width="1.1"/><polygon points="143.8,247.3 150.5,258.9 137.1,258.9" fill="#fff" stroke="#0000ff" stroke-width="1.1"/><polygon points="143.8,247.3 148.7,255.7 138.9,255.7" fill="#0000ff" stroke="#0000ff" stroke-width="1.1"/><polygon points="165.1,244.1 171.8,255.7 158.4,255.7" fill="#fff" stroke="#0000ff" stroke-width="1.1"/><polygon points="165.1,244.1 170,252.5 160.2,252.5" fill="#0000ff" stroke="#0000ff" stroke-width="1.1"/><polygon points="186.4,241 193.1,252.6 179.7,252.6" fill="#fff" stroke="#0000ff" stroke-width="1.1"/><polygon points="186.4,241 191.3,249.4 181.5,249.4" fill="#0000ff" stroke="#0000ff" stroke-width="1.1"/><polygon points="207.7,239.3 214.4,250.9 201,250.9" fill="#fff" stroke="#0000ff" stroke-width="1.1"/><polygon points="207.7,239.3 212.6,247.7 202.8,247.7" fill="#0000ff" stroke="#0000ff" stroke-width="1.1"/><polygon points="229,237.8 235.7,249.4 222.3,249.4" fill="#fff" stroke="#0000ff" stroke-width="1.1"/><polygon points="229,237.8 233.9,246.2 224.1,246.2" fill="#0000ff" stroke="#0000ff" stroke-width="1.1"/><polygon points="250.3,236.9 257,248.5 243.6,248.5" fill="#fff" stroke="#0000ff" stroke-width="1.1"/><polygon points="250.3,236.9 255.2,245.3 245.4,245.3" fill="#0000ff" stroke="#0000ff" stroke-width="1.1"/><polygon points="271.6,237.5 278.3,249.1 264.9,249.1" fill="#fff" stroke="#0000ff" stroke-width="1.1"/><polygon points="271.6,237.5 276.5,245.9 266.7,245.9" fill="#0000ff" stroke="#0000ff" stroke-width="1.1"/><polygon points="292.9,240.1 299.6,251.7 286.2,251.7" fill="#fff" stroke="#0000ff" stroke-width="1.1"/><polygon points="292.9,240.1 297.8,248.6 288,248.6" fill="#0000ff" stroke="#0000ff" stroke-width="1.1"/><polygon points="314.2,244.3 320.9,255.9 307.5,255.9" fill="#fff" stroke="#0000ff" stroke-width="1.1"/><polygon points="314.2,244.3 319.1,252.8 309.3,252.8" fill="#0000ff" stroke="#0000ff" stroke-width="1.1"/><polygon points="335.5,249.9 342.2,261.5 328.8,261.5" fill="#fff" stroke="#0000ff" stroke-width="1.1"/><polygon points="335.5,249.9 340.4,258.4 330.6,258.4" fill="#0000ff" stroke="#0000ff" stroke-width="1.1"/><polygon points="356.8,257.1 363.5,268.7 350.1,268.7" fill="#fff" stroke="#0000ff" stroke-width="1.1"/><polygon points="356.8,257.1 361.6,265.6 351.9,265.6" fill="#0000ff" stroke="#0000ff" stroke-width="1.1"/><polygon points="378.1,265.7 384.8,277.3 371.4,277.3" fill="#fff" stroke="#0000ff" stroke-width="1.1"/><polygon points="378.1,265.7 382.9,274.1 373.2,274.1" fill="#0000ff" stroke="#0000ff" stroke-width="1.1"/><polygon points="399.4,275 406.1,286.6 392.7,286.6" fill="#fff" stroke="#0000ff" stroke-width="1.1"/><polygon points="399.4,275 404.2,283.4 394.5,283.4" fill="#0000ff" stroke="#0000ff" stroke-width="1.1"/><polygon points="420.7,285.9 427.4,297.5 414,297.5" fill="#fff" stroke="#0000ff" stroke-width="1.1"/><polygon points="420.7,285.9 425.5,294.4 415.8,294.4" fill="#0000ff" stroke="#0000ff" stroke-width="1.1"/><polygon points="442,298.7 448.7,310.3 435.3,310.3" fill="#fff" stroke="#0000ff" stroke-width="1.1"/><polygon points="442,298.7 446.8,307.2 437.1,307.2" fill="#0000ff" stroke="#0000ff" stroke-width="1.1"/><polygon points="463.3,313.4 470,325 456.6,325" fill="#fff" stroke="#0000ff" stroke-width="1.1"/><polygon points="463.3,313.4 468.1,321.9 458.4,321.9" fill="#0000ff" stroke="#0000ff" stroke-width="1.1"/><polygon points="484.6,329.1 491.3,340.7 477.9,340.7" fill="#fff" stroke="#0000ff" stroke-width="1.1"/><polygon points="484.6,329.1 489.4,337.5 479.7,337.5" fill="#0000ff" stroke="#0000ff" stroke-width="1.1"/><polygon points="505.9,345.6 512.6,357.2 499.2,357.2" fill="#fff" stroke="#0000ff" stroke-width="1.1"/><polygon points="505.9,345.6 510.7,354.1 501,354.1" fill="#0000ff" stroke="#0000ff" stroke-width="1.1"/><polygon points="527.2,364.3 533.9,375.9 520.5,375.9" fill="#fff" stroke="#0000ff" stroke-width="1.1"/><polygon points="527.2,364.3 532,372.7 522.3,372.7" fill="#0000ff" stroke="#0000ff" stroke-width="1.1"/><polygon points="548.5,383.6 555.2,395.2 541.8,395.2" fill="#fff" stroke="#0000ff" stroke-width="1.1"/><polygon points="548.5,383.6 553.3,392.1 543.6,392.1" fill="#0000ff" stroke="#0000ff" stroke-width="1.1"/><polygon points="569.7,401.8 576.4,413.4 563,413.4" fill="#fff" stroke="#0000ff" stroke-width="1.1"/><polygon points="569.7,401.8 574.6,410.3 564.9,410.3" fill="#0000ff" stroke="#0000ff" stroke-width="1.1"/><polygon points="591,420 597.7,431.6 584.3,431.6" fill="#fff" stroke="#0000ff" stroke-width="1.1"/><polygon points="591,420 595.9,428.5 586.2,428.5" fill="#0000ff" stroke="#0000ff" stroke-width="1.1"/><polygon points="612.3,438.3 619,449.9 605.6,449.9" fill="#fff" stroke="#0000ff" stroke-width="1.1"/><polygon points="612.3,438.3 617.2,446.7 607.5,446.7" fill="#0000ff" stroke="#0000ff" stroke-width="1.1"/><polygon points="633.6,455.1 640.3,466.7 626.9,466.7" fill="#fff" stroke="#0000ff" stroke-width="1.1"/><polygon points="633.6,455.1 638.5,463.6 628.8,463.6" fill="#0000ff" stroke="#0000ff" stroke-width="1.1"/><polygon points="654.9,469.5 661.6,481.1 648.2,481.1" fill="#fff" stroke="#0000ff" stroke-width="1.1"/><polygon points="654.9,469.5 659.8,477.9 650.1,477.9" fill="#0000ff" stroke="#0000ff" stroke-width="1.1"/><polygon points="676.2,482 682.9,493.6 669.5,493.6" fill="#fff" stroke="#0000ff" stroke-width="1.1"/><polygon points="676.2,482 681.1,490.5 671.4,490.5" fill="#0000ff" stroke="#0000ff" stroke-width="1.1"/><polygon points="697.5,492.4 704.2,504 690.8,504" fill="#fff" stroke="#0000ff" stroke-width="1.1"/><polygon points="697.5,492.4 702.4,500.8 692.7,500.8" fill="#0000ff" stroke="#0000ff" stroke-width="1.1"/><polygon points="718.8,499.2 725.5,510.8 712.1,510.8" fill="#fff" stroke="#0000ff" stroke-width="1.1"/><polygon points="718.8,499.2 723.7,507.6 714,507.6" fill="#0000ff" stroke="#0000ff" stroke-width="1.1"/><polygon points="740.1,504.1 746.8,515.7 733.4,515.7" fill="#fff" stroke="#0000ff" stroke-width="1.1"/><polygon points="740.1,504.1 745,512.5 735.3,512.5" fill="#0000ff" stroke="#0000ff" stroke-width="1.1"/><polygon points="761.4,506.7 768.1,518.3 754.7,518.3" fill="#fff" stroke="#0000ff" stroke-width="1.1"/><polygon points="761.4,506.7 766.3,515.1 756.6,515.1" fill="#0000ff" stroke="#0000ff" stroke-width="1.1"/><polygon points="782.7,507.1 789.4,518.7 776,518.7" fill="#fff" stroke="#0000ff" stroke-width="1.1"/><polygon points="782.7,507.1 787.6,515.5 777.8,515.5" fill="#0000ff" stroke="#0000ff" stroke-width="1.1"/><polygon points="804,503.3 810.7,514.9 797.3,514.9" fill="#fff" stroke="#0000ff" stroke-width="1.1"/><polygon points="804,503.3 808.9,511.7 799.1,511.7" fill="#0000ff" stroke="#0000ff" stroke-width="1.1"/><polygon points="825.3,498.1 832,509.7 818.6,509.7" fill="#fff" stroke="#0000ff" stroke-width="1.1"/><polygon points="825.3,498.1 830.2,506.5 820.4,506.5" fill="#0000ff" stroke="#0000ff" stroke-width="1.1"/><polygon points="846.6,490.3 853.3,501.9 839.9,501.9" fill="#fff" stroke="#0000ff" stroke-width="1.1"/><polygon points="846.6,490.3 851.5,498.7 841.7,498.7" fill="#0000ff" stroke="#0000ff" stroke-width="1.1"/><polygon points="867.9,478.4 874.6,490 861.2,490" fill="#fff" stroke="#0000ff" stroke-width="1.1"/><polygon points="867.9,478.4 872.8,486.9 863,486.9" fill="#0000ff" stroke="#0000ff" stroke-width="1.1"/><polygon points="889.2,468.2 895.9,479.8 882.5,479.8" fill="#fff" stroke="#0000ff" stroke-width="1.1"/><polygon points="889.2,468.2 894.1,476.6 884.3,476.6" fill="#0000ff" stroke="#0000ff" stroke-width="1.1"/><polygon points="910.5,463.1 917.2,474.7 903.8,474.7" fill="#fff" stroke="#0000ff" stroke-width="1.1"/><polygon points="910.5,463.1 915.4,471.5 905.6,471.5" fill="#0000ff" stroke="#0000ff" stroke-width="1.1"/></g>
<g><polyline points="118.5,236.5 122.5,236.5 143.8,238.4 165.1,236.3 186.4,232.2 207.7,231.7 229,230.8 250.3,231.2 271.6,232.7 292.9,234.6 314.2,238.5 335.5,243.4 356.8,249.7 378.1,258 399.4,267.4 420.7,279.9 442,291.9 463.3,306.2 484.6,322.1 505.9,338.7 527.2,356.8 548.5,374.8 569.7,393.9 591,412.1 612.3,430.2 633.6,447.1 654.9,462.2 676.2,475.6 697.5,487.4 718.8,495.6 740.1,501.1 761.4,504 782.7,505 804,501.5 825.3,496.3 846.6,488.6 867.9,477.2 889.2,466.6 910.5,458.1" fill="none" stroke="#008000" stroke-width="4.2" stroke-linejoin="round"/><polygon points="111.8,232.6 125.2,232.6 118.5,244.2" fill="#fff" stroke="#008000" stroke-width="1.1"/><polygon points="111.8,232.6 125.2,232.6 122.6,237.2 114.4,237.2" fill="#008000" stroke="#008000" stroke-width="1.1"/><polygon points="115.8,232.6 129.2,232.6 122.5,244.2" fill="#fff" stroke="#008000" stroke-width="1.1"/><polygon points="115.8,232.6 129.2,232.6 126.6,237.2 118.4,237.2" fill="#008000" stroke="#008000" stroke-width="1.1"/><polygon points="137.1,234.5 150.5,234.5 143.8,246.1" fill="#fff" stroke="#008000" stroke-width="1.1"/><polygon points="137.1,234.5 150.5,234.5 147.9,239.1 139.7,239.1" fill="#008000" stroke="#008000" stroke-width="1.1"/><polygon points="158.4,232.5 171.8,232.5 165.1,244.1" fill="#fff" stroke="#008000" stroke-width="1.1"/><polygon points="158.4,232.5 171.8,232.5 169.2,237 161,237" fill="#008000" stroke="#008000" stroke-width="1.1"/><polygon points="179.7,228.4 193.1,228.4 186.4,240" fill="#fff" stroke="#008000" stroke-width="1.1"/><polygon points="179.7,228.4 193.1,228.4 190.5,232.9 182.3,232.9" fill="#008000" stroke="#008000" stroke-width="1.1"/><polygon points="201,227.8 214.4,227.8 207.7,239.4" fill="#fff" stroke="#008000" stroke-width="1.1"/><polygon points="201,227.8 214.4,227.8 211.8,232.4 203.6,232.4" fill="#008000" stroke="#008000" stroke-width="1.1"/><polygon points="222.3,226.9 235.7,226.9 229,238.5" fill="#fff" stroke="#008000" stroke-width="1.1"/><polygon points="222.3,226.9 235.7,226.9 233.1,231.5 224.9,231.5" fill="#008000" stroke="#008000" stroke-width="1.1"/><polygon points="243.6,227.3 257,227.3 250.3,238.9" fill="#fff" stroke="#008000" stroke-width="1.1"/><polygon points="243.6,227.3 257,227.3 254.4,231.9 246.2,231.9" fill="#008000" stroke="#008000" stroke-width="1.1"/><polygon points="264.9,228.8 278.3,228.8 271.6,240.4" fill="#fff" stroke="#008000" stroke-width="1.1"/><polygon points="264.9,228.8 278.3,228.8 275.7,233.4 267.5,233.4" fill="#008000" stroke="#008000" stroke-width="1.1"/><polygon points="286.2,230.7 299.6,230.7 292.9,242.3" fill="#fff" stroke="#008000" stroke-width="1.1"/><polygon points="286.2,230.7 299.6,230.7 296.9,235.3 288.8,235.3" fill="#008000" stroke="#008000" stroke-width="1.1"/><polygon points="307.5,234.6 320.9,234.6 314.2,246.2" fill="#fff" stroke="#008000" stroke-width="1.1"/><polygon points="307.5,234.6 320.9,234.6 318.2,239.2 310.1,239.2" fill="#008000" stroke="#008000" stroke-width="1.1"/><polygon points="328.8,239.5 342.2,239.5 335.5,251.1" fill="#fff" stroke="#008000" stroke-width="1.1"/><polygon points="328.8,239.5 342.2,239.5 339.5,244.1 331.4,244.1" fill="#008000" stroke="#008000" stroke-width="1.1"/><polygon points="350.1,245.8 363.5,245.8 356.8,257.4" fill="#fff" stroke="#008000" stroke-width="1.1"/><polygon points="350.1,245.8 363.5,245.8 360.8,250.4 352.7,250.4" fill="#008000" stroke="#008000" stroke-width="1.1"/><polygon points="371.4,254.2 384.8,254.2 378.1,265.8" fill="#fff" stroke="#008000" stroke-width="1.1"/><polygon points="371.4,254.2 384.8,254.2 382.1,258.7 374,258.7" fill="#008000" stroke="#008000" stroke-width="1.1"/><polygon points="392.7,263.6 406.1,263.6 399.4,275.2" fill="#fff" stroke="#008000" stroke-width="1.1"/><polygon points="392.7,263.6 406.1,263.6 403.4,268.1 395.3,268.1" fill="#008000" stroke="#008000" stroke-width="1.1"/><polygon points="414,276 427.4,276 420.7,287.6" fill="#fff" stroke="#008000" stroke-width="1.1"/><polygon points="414,276 427.4,276 424.7,280.6 416.6,280.6" fill="#008000" stroke="#008000" stroke-width="1.1"/><polygon points="435.3,288 448.7,288 442,299.6" fill="#fff" stroke="#008000" stroke-width="1.1"/><polygon points="435.3,288 448.7,288 446,292.6 437.9,292.6" fill="#008000" stroke="#008000" stroke-width="1.1"/><polygon points="456.6,302.3 470,302.3 463.3,313.9" fill="#fff" stroke="#008000" stroke-width="1.1"/><polygon points="456.6,302.3 470,302.3 467.3,306.9 459.2,306.9" fill="#008000" stroke="#008000" stroke-width="1.1"/><polygon points="477.9,318.2 491.3,318.2 484.6,329.8" fill="#fff" stroke="#008000" stroke-width="1.1"/><polygon points="477.9,318.2 491.3,318.2 488.6,322.8 480.5,322.8" fill="#008000" stroke="#008000" stroke-width="1.1"/><polygon points="499.2,334.8 512.6,334.8 505.9,346.4" fill="#fff" stroke="#008000" stroke-width="1.1"/><polygon points="499.2,334.8 512.6,334.8 509.9,339.4 501.8,339.4" fill="#008000" stroke="#008000" stroke-width="1.1"/><polygon points="520.5,353 533.9,353 527.2,364.6" fill="#fff" stroke="#008000" stroke-width="1.1"/><polygon points="520.5,353 533.9,353 531.2,357.5 523.1,357.5" fill="#008000" stroke="#008000" stroke-width="1.1"/><polygon points="541.8,370.9 555.2,370.9 548.5,382.5" fill="#fff" stroke="#008000" stroke-width="1.1"/><polygon points="541.8,370.9 555.2,370.9 552.5,375.5 544.4,375.5" fill="#008000" stroke="#008000" stroke-width="1.1"/><polygon points="563,390 576.4,390 569.7,401.6" fill="#fff" stroke="#008000" stroke-width="1.1"/><polygon points="563,390 576.4,390 573.8,394.6 565.7,394.6" fill="#008000" stroke="#008000" stroke-width="1.1"/><polygon points="584.3,408.2 597.7,408.2 591,419.8" fill="#fff" stroke="#008000" stroke-width="1.1"/><polygon points="584.3,408.2 597.7,408.2 595.1,412.8 587,412.8" fill="#008000" stroke="#008000" stroke-width="1.1"/><polygon points="605.6,426.3 619,426.3 612.3,437.9" fill="#fff" stroke="#008000" stroke-width="1.1"/><polygon points="605.6,426.3 619,426.3 616.4,430.9 608.3,430.9" fill="#008000" stroke="#008000" stroke-width="1.1"/><polygon points="626.9,443.2 640.3,443.2 633.6,454.8" fill="#fff" stroke="#008000" stroke-width="1.1"/><polygon points="626.9,443.2 640.3,443.2 637.7,447.8 629.6,447.8" fill="#008000" stroke="#008000" stroke-width="1.1"/><polygon points="648.2,458.4 661.6,458.4 654.9,470" fill="#fff" stroke="#008000" stroke-width="1.1"/><polygon points="648.2,458.4 661.6,458.4 659,462.9 650.9,462.9" fill="#008000" stroke="#008000" stroke-width="1.1"/><polygon points="669.5,471.7 682.9,471.7 676.2,483.3" fill="#fff" stroke="#008000" stroke-width="1.1"/><polygon points="669.5,471.7 682.9,471.7 680.3,476.3 672.2,476.3" fill="#008000" stroke="#008000" stroke-width="1.1"/><polygon points="690.8,483.5 704.2,483.5 697.5,495.1" fill="#fff" stroke="#008000" stroke-width="1.1"/><polygon points="690.8,483.5 704.2,483.5 701.6,488.1 693.5,488.1" fill="#008000" stroke="#008000" stroke-width="1.1"/><polygon points="712.1,491.7 725.5,491.7 718.8,503.3" fill="#fff" stroke="#008000" stroke-width="1.1"/><polygon points="712.1,491.7 725.5,491.7 722.9,496.3 714.8,496.3" fill="#008000" stroke="#008000" stroke-width="1.1"/><polygon points="733.4,497.2 746.8,497.2 740.1,508.8" fill="#fff" stroke="#008000" stroke-width="1.1"/><polygon points="733.4,497.2 746.8,497.2 744.2,501.8 736.1,501.8" fill="#008000" stroke="#008000" stroke-width="1.1"/><polygon points="754.7,500.1 768.1,500.1 761.4,511.7" fill="#fff" stroke="#008000" stroke-width="1.1"/><polygon points="754.7,500.1 768.1,500.1 765.5,504.7 757.4,504.7" fill="#008000" stroke="#008000" stroke-width="1.1"/><polygon points="776,501.1 789.4,501.1 782.7,512.7" fill="#fff" stroke="#008000" stroke-width="1.1"/><polygon points="776,501.1 789.4,501.1 786.8,505.7 778.7,505.7" fill="#008000" stroke="#008000" stroke-width="1.1"/><polygon points="797.3,497.6 810.7,497.6 804,509.2" fill="#fff" stroke="#008000" stroke-width="1.1"/><polygon points="797.3,497.6 810.7,497.6 808.1,502.2 800,502.2" fill="#008000" stroke="#008000" stroke-width="1.1"/><polygon points="818.6,492.5 832,492.5 825.3,504.1" fill="#fff" stroke="#008000" stroke-width="1.1"/><polygon points="818.6,492.5 832,492.5 829.4,497 821.2,497" fill="#008000" stroke="#008000" stroke-width="1.1"/><polygon points="839.9,484.8 853.3,484.8 846.6,496.4" fill="#fff" stroke="#008000" stroke-width="1.1"/><polygon points="839.9,484.8 853.3,484.8 850.7,489.3 842.5,489.3" fill="#008000" stroke="#008000" stroke-width="1.1"/><polygon points="861.2,473.3 874.6,473.3 867.9,484.9" fill="#fff" stroke="#008000" stroke-width="1.1"/><polygon points="861.2,473.3 874.6,473.3 872,477.9 863.8,477.9" fill="#008000" stroke="#008000" stroke-width="1.1"/><polygon points="882.5,462.7 895.9,462.7 889.2,474.3" fill="#fff" stroke="#008000" stroke-width="1.1"/><polygon points="882.5,462.7 895.9,462.7 893.3,467.3 885.1,467.3" fill="#008000" stroke="#008000" stroke-width="1.1"/><polygon points="903.8,454.2 917.2,454.2 910.5,465.8" fill="#fff" stroke="#008000" stroke-width="1.1"/><polygon points="903.8,454.2 917.2,454.2 914.6,458.8 906.4,458.8" fill="#008000" stroke="#008000" stroke-width="1.1"/></g>
<g><polyline points="118.5,152.3 122.5,152.3 143.8,152.1 165.1,151.8 186.4,151.4 207.7,150.9 229,153 250.3,156 271.6,159.5 292.9,163.7 314.2,169.5 335.5,177 356.8,185.9 378.1,196.4 399.4,208.1 420.7,221 442,236.1 463.3,251.8 484.6,269.3 505.9,287.9 527.2,307.4 548.5,328 569.7,348.4 591,368.6 612.3,388.8 633.6,407.7 654.9,425.1 676.2,440.8 697.5,452.8 718.8,462.6 740.1,470.4 761.4,475.3 782.7,477.6 804,477.2 825.3,473.8 846.6,468.7 867.9,461 889.2,453.3 910.5,448.6" fill="none" stroke="#ff8000" stroke-width="4.2" stroke-linejoin="round"/><polygon points="118.5,145 125.8,152.3 118.5,159.7 111.2,152.3" fill="#fff" stroke="#ff8000" stroke-width="1.1"/><polygon points="118.5,145 125.8,152.3 125.1,153 111.9,153 111.2,152.3" fill="#ff8000" stroke="#ff8000" stroke-width="1.1"/><polygon points="122.5,144.9 129.9,152.3 122.5,159.6 115.2,152.3" fill="#fff" stroke="#ff8000" stroke-width="1.1"/><polygon points="122.5,144.9 129.9,152.3 129.2,153 115.9,153 115.2,152.3" fill="#ff8000" stroke="#ff8000" stroke-width="1.1"/><polygon points="143.8,144.8 151.2,152.1 143.8,159.5 136.5,152.1" fill="#fff" stroke="#ff8000" stroke-width="1.1"/><polygon points="143.8,144.8 151.2,152.1 150.5,152.8 137.2,152.8 136.5,152.1" fill="#ff8000" stroke="#ff8000" stroke-width="1.1"/><polygon points="165.1,144.5 172.5,151.8 165.1,159.2 157.8,151.8" fill="#fff" stroke="#ff8000" stroke-width="1.1"/><polygon points="165.1,144.5 172.5,151.8 171.8,152.5 158.5,152.5 157.8,151.8" fill="#ff8000" stroke="#ff8000" stroke-width="1.1"/><polygon points="186.4,144 193.8,151.4 186.4,158.7 179.1,151.4" fill="#fff" stroke="#ff8000" stroke-width="1.1"/><polygon points="186.4,144 193.8,151.4 193.1,152.1 179.8,152.1 179.1,151.4" fill="#ff8000" stroke="#ff8000" stroke-width="1.1"/><polygon points="207.7,143.6 215,150.9 207.7,158.3 200.3,150.9" fill="#fff" stroke="#ff8000" stroke-width="1.1"/><polygon points="207.7,143.6 215,150.9 214.3,151.6 201,151.6 200.3,150.9" fill="#ff8000" stroke="#ff8000" stroke-width="1.1"/><polygon points="229,145.6 236.3,153 229,160.3 221.6,153" fill="#fff" stroke="#ff8000" stroke-width="1.1"/><polygon points="229,145.6 236.3,153 235.6,153.7 222.3,153.7 221.6,153" fill="#ff8000" stroke="#ff8000" stroke-width="1.1"/><polygon points="250.3,148.6 257.6,156 250.3,163.3 242.9,156" fill="#fff" stroke="#ff8000" stroke-width="1.1"/><polygon points="250.3,148.6 257.6,156 256.9,156.7 243.6,156.7 242.9,156" fill="#ff8000" stroke="#ff8000" stroke-width="1.1"/><polygon points="271.6,152.1 278.9,159.5 271.6,166.8 264.2,159.5" fill="#fff" stroke="#ff8000" stroke-width="1.1"/><polygon points="271.6,152.1 278.9,159.5 278.2,160.2 264.9,160.2 264.2,159.5" fill="#ff8000" stroke="#ff8000" stroke-width="1.1"/><polygon points="292.9,156.4 300.2,163.7 292.9,171.1 285.5,163.7" fill="#fff" stroke="#ff8000" stroke-width="1.1"/><polygon points="292.9,156.4 300.2,163.7 299.5,164.4 286.2,164.4 285.5,163.7" fill="#ff8000" stroke="#ff8000" stroke-width="1.1"/><polygon points="314.2,162.1 321.5,169.5 314.2,176.8 306.8,169.5" fill="#fff" stroke="#ff8000" stroke-width="1.1"/><polygon points="314.2,162.1 321.5,169.5 320.8,170.2 307.5,170.2 306.8,169.5" fill="#ff8000" stroke="#ff8000" stroke-width="1.1"/><polygon points="335.5,169.6 342.8,177 335.5,184.3 328.1,177" fill="#fff" stroke="#ff8000" stroke-width="1.1"/><polygon points="335.5,169.6 342.8,177 342.1,177.7 328.8,177.7 328.1,177" fill="#ff8000" stroke="#ff8000" stroke-width="1.1"/><polygon points="356.8,178.6 364.1,185.9 356.8,193.3 349.4,185.9" fill="#fff" stroke="#ff8000" stroke-width="1.1"/><polygon points="356.8,178.6 364.1,185.9 363.4,186.6 350.1,186.6 349.4,185.9" fill="#ff8000" stroke="#ff8000" stroke-width="1.1"/><polygon points="378.1,189.1 385.4,196.4 378.1,203.8 370.7,196.4" fill="#fff" stroke="#ff8000" stroke-width="1.1"/><polygon points="378.1,189.1 385.4,196.4 384.7,197.1 371.4,197.1 370.7,196.4" fill="#ff8000" stroke="#ff8000" stroke-width="1.1"/><polygon points="399.4,200.8 406.7,208.1 399.4,215.5 392,208.1" fill="#fff" stroke="#ff8000" stroke-width="1.1"/><polygon points="399.4,200.8 406.7,208.1 406,208.8 392.7,208.8 392,208.1" fill="#ff8000" stroke="#ff8000" stroke-width="1.1"/><polygon points="420.7,213.6 428,221 420.7,228.3 413.3,221" fill="#fff" stroke="#ff8000" stroke-width="1.1"/><polygon points="420.7,213.6 428,221 427.3,221.7 414,221.7 413.3,221" fill="#ff8000" stroke="#ff8000" stroke-width="1.1"/><polygon points="442,228.7 449.3,236.1 442,243.4 434.6,236.1" fill="#fff" stroke="#ff8000" stroke-width="1.1"/><polygon points="442,228.7 449.3,236.1 448.6,236.8 435.3,236.8 434.6,236.1" fill="#ff8000" stroke="#ff8000" stroke-width="1.1"/><polygon points="463.3,244.4 470.6,251.8 463.3,259.1 455.9,251.8" fill="#fff" stroke="#ff8000" stroke-width="1.1"/><polygon points="463.3,244.4 470.6,251.8 469.9,252.5 456.6,252.5 455.9,251.8" fill="#ff8000" stroke="#ff8000" stroke-width="1.1"/><polygon points="484.6,261.9 491.9,269.3 484.6,276.6 477.2,269.3" fill="#fff" stroke="#ff8000" stroke-width="1.1"/><polygon points="484.6,261.9 491.9,269.3 491.2,270 477.9,270 477.2,269.3" fill="#ff8000" stroke="#ff8000" stroke-width="1.1"/><polygon points="505.9,280.5 513.2,287.9 505.9,295.2 498.5,287.9" fill="#fff" stroke="#ff8000" stroke-width="1.1"/><polygon points="505.9,280.5 513.2,287.9 512.5,288.6 499.2,288.6 498.5,287.9" fill="#ff8000" stroke="#ff8000" stroke-width="1.1"/><polygon points="527.2,300 534.5,307.4 527.2,314.7 519.8,307.4" fill="#fff" stroke="#ff8000" stroke-width="1.1"/><polygon points="527.2,300 534.5,307.4 533.8,308.1 520.5,308.1 519.8,307.4" fill="#ff8000" stroke="#ff8000" stroke-width="1.1"/><polygon points="548.5,320.6 555.8,328 548.5,335.3 541.1,328" fill="#fff" stroke="#ff8000" stroke-width="1.1"/><polygon points="548.5,320.6 555.8,328 555.1,328.7 541.8,328.7 541.1,328" fill="#ff8000" stroke="#ff8000" stroke-width="1.1"/><polygon points="569.7,341 577.1,348.4 569.7,355.7 562.4,348.4" fill="#fff" stroke="#ff8000" stroke-width="1.1"/><polygon points="569.7,341 577.1,348.4 576.4,349.1 563.1,349.1 562.4,348.4" fill="#ff8000" stroke="#ff8000" stroke-width="1.1"/><polygon points="591,361.3 598.4,368.6 591,376 583.7,368.6" fill="#fff" stroke="#ff8000" stroke-width="1.1"/><polygon points="591,361.3 598.4,368.6 597.7,369.3 584.4,369.3 583.7,368.6" fill="#ff8000" stroke="#ff8000" stroke-width="1.1"/><polygon points="612.3,381.5 619.7,388.8 612.3,396.2 605,388.8" fill="#fff" stroke="#ff8000" stroke-width="1.1"/><polygon points="612.3,381.5 619.7,388.8 619,389.5 605.7,389.5 605,388.8" fill="#ff8000" stroke="#ff8000" stroke-width="1.1"/><polygon points="633.6,400.4 641,407.7 633.6,415.1 626.3,407.7" fill="#fff" stroke="#ff8000" stroke-width="1.1"/><polygon points="633.6,400.4 641,407.7 640.3,408.4 627,408.4 626.3,407.7" fill="#ff8000" stroke="#ff8000" stroke-width="1.1"/><polygon points="654.9,417.7 662.3,425.1 654.9,432.4 647.6,425.1" fill="#fff" stroke="#ff8000" stroke-width="1.1"/><polygon points="654.9,417.7 662.3,425.1 661.6,425.8 648.3,425.8 647.6,425.1" fill="#ff8000" stroke="#ff8000" stroke-width="1.1"/><polygon points="676.2,433.4 683.6,440.8 676.2,448.1 668.9,440.8" fill="#fff" stroke="#ff8000" stroke-width="1.1"/><polygon points="676.2,433.4 683.6,440.8 682.9,441.5 669.6,441.5 668.9,440.8" fill="#ff8000" stroke="#ff8000" stroke-width="1.1"/><polygon points="697.5,445.5 704.9,452.8 697.5,460.2 690.2,452.8" fill="#fff" stroke="#ff8000" stroke-width="1.1"/><polygon points="697.5,445.5 704.9,452.8 704.2,453.5 690.9,453.5 690.2,452.8" fill="#ff8000" stroke="#ff8000" stroke-width="1.1"/><polygon points="718.8,455.3 726.2,462.6 718.8,470 711.5,462.6" fill="#fff" stroke="#ff8000" stroke-width="1.1"/><polygon points="718.8,455.3 726.2,462.6 725.5,463.3 712.2,463.3 711.5,462.6" fill="#ff8000" stroke="#ff8000" stroke-width="1.1"/><polygon points="740.1,463.1 747.5,470.4 740.1,477.8 732.8,470.4" fill="#fff" stroke="#ff8000" stroke-width="1.1"/><polygon points="740.1,463.1 747.5,470.4 746.8,471.1 733.5,471.1 732.8,470.4" fill="#ff8000" stroke="#ff8000" stroke-width="1.1"/><polygon points="761.4,468 768.8,475.3 761.4,482.7 754.1,475.3" fill="#fff" stroke="#ff8000" stroke-width="1.1"/><polygon points="761.4,468 768.8,475.3 768.1,476 754.8,476 754.1,475.3" fill="#ff8000" stroke="#ff8000" stroke-width="1.1"/><polygon points="782.7,470.2 790.1,477.6 782.7,484.9 775.4,477.6" fill="#fff" stroke="#ff8000" stroke-width="1.1"/><polygon points="782.7,470.2 790.1,477.6 789.4,478.3 776.1,478.3 775.4,477.6" fill="#ff8000" stroke="#ff8000" stroke-width="1.1"/><polygon points="804,469.8 811.4,477.2 804,484.5 796.7,477.2" fill="#fff" stroke="#ff8000" stroke-width="1.1"/><polygon points="804,469.8 811.4,477.2 810.7,477.9 797.4,477.9 796.7,477.2" fill="#ff8000" stroke="#ff8000" stroke-width="1.1"/><polygon points="825.3,466.5 832.7,473.8 825.3,481.2 818,473.8" fill="#fff" stroke="#ff8000" stroke-width="1.1"/><polygon points="825.3,466.5 832.7,473.8 832,474.5 818.7,474.5 818,473.8" fill="#ff8000" stroke="#ff8000" stroke-width="1.1"/><polygon points="846.6,461.4 854,468.7 846.6,476.1 839.3,468.7" fill="#fff" stroke="#ff8000" stroke-width="1.1"/><polygon points="846.6,461.4 854,468.7 853.3,469.4 840,469.4 839.3,468.7" fill="#ff8000" stroke="#ff8000" stroke-width="1.1"/><polygon points="867.9,453.7 875.3,461 867.9,468.4 860.6,461" fill="#fff" stroke="#ff8000" stroke-width="1.1"/><polygon points="867.9,453.7 875.3,461 874.6,461.7 861.3,461.7 860.6,461" fill="#ff8000" stroke="#ff8000" stroke-width="1.1"/><polygon points="889.2,445.9 896.6,453.3 889.2,460.6 881.9,453.3" fill="#fff" stroke="#ff8000" stroke-width="1.1"/><polygon points="889.2,445.9 896.6,453.3 895.9,454 882.6,454 881.9,453.3" fill="#ff8000" stroke="#ff8000" stroke-width="1.1"/><polygon points="910.5,441.2 917.9,448.6 910.5,455.9 903.1,448.6" fill="#fff" stroke="#ff8000" stroke-width="1.1"/><polygon points="910.5,441.2 917.9,448.6 917.1,449.3 903.9,449.3 903.1,448.6" fill="#ff8000" stroke="#ff8000" stroke-width="1.1"/></g>
</g>
<rect x="115.75" y="25.5" width="794.75" height="655.0" fill="none" stroke="#000" stroke-width="3.1"/><path d="M149.9 680.5v-5.7M169.9 680.5v-5.7M184.1 680.5v-5.7M195.1 680.5v-5.7M204.1 680.5v-5.7M211.7 680.5v-5.7M218.3 680.5v-5.7M224.1 680.5v-5.7M229.3 680.5v-11.0M263.5 680.5v-5.7M283.5 680.5v-5.7M297.6 680.5v-5.7M308.6 680.5v-5.7M317.6 680.5v-5.7M325.2 680.5v-5.7M331.8 680.5v-5.7M337.6 680.5v-5.7M342.8 680.5v-11.0M377 680.5v-5.7M397 680.5v-5.7M411.2 680.5v-5.7M422.2 680.5v-5.7M431.2 680.5v-5.7M438.8 680.5v-5.7M445.4 680.5v-5.7M451.2 680.5v-5.7M456.4 680.5v-11.0M490.5 680.5v-5.7M510.5 680.5v-5.7M524.7 680.5v-5.7M535.7 680.5v-5.7M544.7 680.5v-5.7M552.3 680.5v-5.7M558.9 680.5v-5.7M564.7 680.5v-5.7M569.9 680.5v-11.0M604.1 680.5v-5.7M624.1 680.5v-5.7M638.2 680.5v-5.7M649.3 680.5v-5.7M658.2 680.5v-5.7M665.8 680.5v-5.7M672.4 680.5v-5.7M678.2 680.5v-5.7M683.4 680.5v-11.0M717.6 680.5v-5.7M737.6 680.5v-5.7M751.8 680.5v-5.7M762.8 680.5v-5.7M771.8 680.5v-5.7M779.4 680.5v-5.7M786 680.5v-5.7M791.8 680.5v-5.7M797 680.5v-11.0M831.1 680.5v-5.7M851.1 680.5v-5.7M865.3 680.5v-5.7M876.3 680.5v-5.7M885.3 680.5v-5.7M892.9 680.5v-5.7M899.5 680.5v-5.7M905.3 680.5v-5.7M115.75 625.9h5.7M115.75 571.3h11.0M115.75 516.8h5.7M115.75 462.2h11.0M115.75 407.6h5.7M115.75 353h11.0M115.75 298.4h5.7M115.75 243.8h11.0M115.75 189.2h5.7M115.75 134.7h11.0M115.75 80.1h5.7M910.5 581.9h-5.7M910.5 524.2h-5.7M910.5 483.3h-5.7M910.5 451.6h-5.7M910.5 425.7h-5.7M910.5 403.7h-5.7M910.5 384.7h-5.7M910.5 368h-5.7M910.5 353h-11.0M910.5 254.4h-5.7M910.5 196.7h-5.7M910.5 155.8h-5.7M910.5 124.1h-5.7M910.5 98.2h-5.7M910.5 76.2h-5.7M910.5 57.2h-5.7M910.5 40.5h-5.7" stroke="#000" stroke-width="2.5" fill="none"/><g font-family="'Liberation Serif', 'Times New Roman', serif" font-size="36" fill="#000"><text x="103.5" y="691.4" text-anchor="end">3.5</text><text x="103.5" y="582.2" text-anchor="end">4.0</text><text x="103.5" y="473.1" text-anchor="end">4.5</text><text x="103.5" y="363.9" text-anchor="end">5.0</text><text x="103.5" y="254.7" text-anchor="end">5.5</text><text x="103.5" y="145.6" text-anchor="end">6.0</text><text x="103.5" y="36.4" text-anchor="end">6.5</text><text x="116.8" y="725.8" text-anchor="middle">10<tspan font-size="24" dy="-14.5">-1</tspan></text><text x="230.3" y="725.8" text-anchor="middle">10<tspan font-size="24" dy="-14.5">0</tspan></text><text x="343.8" y="725.8" text-anchor="middle">10<tspan font-size="24" dy="-14.5">1</tspan></text><text x="457.4" y="725.8" text-anchor="middle">10<tspan font-size="24" dy="-14.5">2</tspan></text><text x="570.9" y="725.8" text-anchor="middle">10<tspan font-size="24" dy="-14.5">3</tspan></text><text x="684.4" y="725.8" text-anchor="middle">10<tspan font-size="24" dy="-14.5">4</tspan></text><text x="798" y="725.8" text-anchor="middle">10<tspan font-size="24" dy="-14.5">5</tspan></text><text x="911.5" y="725.8" text-anchor="middle">10<tspan font-size="24" dy="-14.5">6</tspan></text><text x="924.5" y="38.4">10<tspan font-size="24" dy="-14.5">-1</tspan></text><text x="924.5" y="365.9">10<tspan font-size="24" dy="-14.5">-2</tspan></text><text x="924.5" y="693.4">10<tspan font-size="24" dy="-14.5">-3</tspan></text></g><g font-family="'Liberation Serif', 'Times New Roman', serif" font-size="38.5" fill="#000"><text x="517.2" y="775.7" text-anchor="middle">Frequency (Hz)</text><text transform="translate(36.9 352.8) rotate(-90)" text-anchor="middle">Relative permittivity</text><text transform="translate(1014 352) rotate(-90)" text-anchor="middle">Loss tangent</text></g><line x1="272.3" y1="56.9" x2="339" y2="56.9" stroke="#000000" stroke-width="4.2"/><rect x="300.2" y="51.5" width="10.8" height="10.8" fill="#000000" stroke="#000000" stroke-width="1.2"/><line x1="272.3" y1="92.9" x2="339" y2="92.9" stroke="#000000" stroke-width="4.2"/><rect x="300.4" y="87.7" width="10.5" height="10.5" fill="#fff" stroke="#000000" stroke-width="1.1"/><rect x="300.4" y="87.7" width="10.5" height="6" fill="#000000"/><text x="352.5" y="90" font-family="'Liberation Serif', 'Times New Roman', serif" font-size="36" fill="#000">AEF0</text><line x1="463.8" y1="53.4" x2="530.3" y2="53.4" stroke="#ff0000" stroke-width="4.2"/><circle cx="497" cy="53.4" r="6.3" fill="#ff0000"/><line x1="463.8" y1="90" x2="530.3" y2="90" stroke="#ff0000" stroke-width="4.2"/><rect x="491.8" y="84.8" width="10.5" height="10.5" fill="#fff" stroke="#ff0000" stroke-width="1.1"/><rect x="491.8" y="84.8" width="10.5" height="6" fill="#ff0000"/><text x="547" y="86.5" font-family="'Liberation Serif', 'Times New Roman', serif" font-size="36" fill="#000">AEF0.1</text><line x1="681.3" y1="52" x2="748.4" y2="52" stroke="#0000ff" stroke-width="4.2"/><polygon points="714.8,44.3 721.5,55.9 708.1,55.9" fill="#0000ff" stroke="#0000ff" stroke-width="1.2" stroke-linejoin="miter"/><line x1="681.3" y1="88" x2="748.4" y2="88" stroke="#0000ff" stroke-width="4.2"/><polygon points="714.8,80.3 721.5,91.9 708.1,91.9" fill="#fff" stroke="#0000ff" stroke-width="1.1"/><polygon points="714.8,80.3 719.7,88.7 710,88.7" fill="#0000ff" stroke="#0000ff" stroke-width="1.1"/><text x="761.8" y="84.7" font-family="'Liberation Serif', 'Times New Roman', serif" font-size="36" fill="#000">AEF0.3</text><line x1="464.5" y1="142.7" x2="530.3" y2="142.7" stroke="#008000" stroke-width="4.2"/><polygon points="490.7,138.8 504.1,138.8 497.4,150.4" fill="#008000" stroke="#008000" stroke-width="1.2"/><line x1="464.5" y1="178.7" x2="530.3" y2="178.7" stroke="#008000" stroke-width="4.2"/><polygon points="490.7,174.8 504.1,174.8 497.4,186.4" fill="#fff" stroke="#008000" stroke-width="1.1"/><polygon points="490.7,174.8 504.1,174.8 501.5,179.4 493.3,179.4" fill="#008000" stroke="#008000" stroke-width="1.1"/><text x="548.3" y="174" font-family="'Liberation Serif', 'Times New Roman', serif" font-size="36" fill="#000">AEF0.5</text><line x1="681.3" y1="145" x2="748.4" y2="145" stroke="#ff8000" stroke-width="4.2"/><polygon points="714.8,137.7 722.2,145 714.8,152.3 707.5,145" fill="#ff8000" stroke="#ff8000" stroke-width="1.2"/><line x1="681.3" y1="181.6" x2="748.4" y2="181.6" stroke="#ff8000" stroke-width="4.2"/><polygon points="714.8,174.2 722.2,181.6 714.8,188.9 707.5,181.6" fill="#fff" stroke="#ff8000" stroke-width="1.1"/><polygon points="714.8,174.2 722.2,181.6 721.5,182.3 708.2,182.3 707.5,181.6" fill="#ff8000" stroke="#ff8000" stroke-width="1.1"/><text x="761.8" y="175.4" font-family="'Liberation Serif', 'Times New Roman', serif" font-size="36" fill="#000">AEF0.7</text></svg>
</body></html>
